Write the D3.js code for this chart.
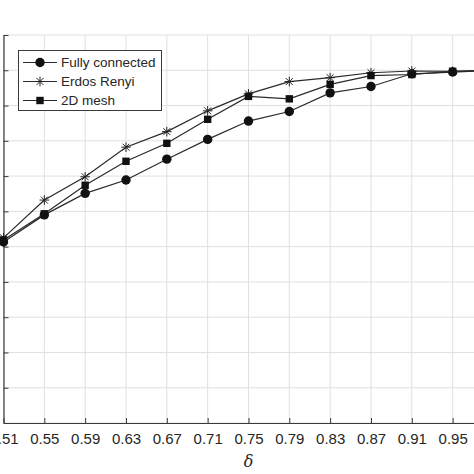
<!DOCTYPE html>
<html>
<head>
<meta charset="utf-8">
<script src="https://cdn.jsdelivr.net/npm/d3@7"></script>
<style>
  body { margin: 0; background: #fff; }
  svg { display: block; font-family: "Liberation Sans", Arial, sans-serif; }
</style>
</head>
<body>
<div id="chart"></div>
<script>
// delta values on the x axis
const deltas = [0.51, 0.55, 0.59, 0.63, 0.67, 0.71, 0.75, 0.79, 0.83, 0.87, 0.91, 0.95, 0.99];
const fullyConnected = [0.513, 0.590, 0.651, 0.689, 0.748, 0.804, 0.856, 0.883, 0.936, 0.954, 0.990, 0.995, 1.0];
const erdosRenyi = [0.525, 0.632, 0.698, 0.782, 0.826, 0.885, 0.933, 0.968, 0.979, 0.993, 0.998, 0.997, 1.0];
const mesh2d = [0.519, 0.593, 0.674, 0.742, 0.793, 0.861, 0.926, 0.919, 0.960, 0.985, 0.988, 0.997, 1.0];
// y tick positions (their labels fall outside the cropped picture)
const yTicks = [0, 0.1, 0.2, 0.3, 0.4, 0.5, 0.6, 0.7, 0.8, 0.9, 1.0, 1.1];

const series = [
  { name: "Fully connected", values: fullyConnected, marker: "circle" },
  { name: "Erdos Renyi", values: erdosRenyi, marker: "star" },
  { name: "2D mesh", values: mesh2d, marker: "square" }
];

var width = 474;
var height = 474;
const margin = { top: 35, left: 3.5, bottom: 51 };
const step = 40.83;

const svg = d3.select("#chart").append("svg")
  .attr("width", width)
  .attr("height", height);

const x = d3.scaleLinear()
  .domain([0.51, 0.99])
  .range([margin.left, margin.left + 12 * step]);

const y = d3.scaleLinear()
  .domain([0, 1.1])
  .range([height - margin.bottom, margin.top]);

// grid
svg.append("g")
  .selectAll("line")
  .data(deltas)
  .join("line")
  .attr("x1", d => x(d)).attr("x2", d => x(d))
  .attr("y1", y(0)).attr("y2", y(1.1))
  .attr("stroke", "#e0e0e0").attr("stroke-width", 1);

svg.append("g")
  .selectAll("line")
  .data(yTicks)
  .join("line")
  .attr("x1", x(0.51)).attr("x2", x(0.99))
  .attr("y1", d => y(d)).attr("y2", d => y(d))
  .attr("stroke", "#e0e0e0").attr("stroke-width", 1);

// axes
const xAxis = svg.append("g")
  .attr("transform", `translate(0,${y(0)})`)
  .call(d3.axisBottom(x).tickValues(deltas).tickFormat(d3.format(".2f"))
    .tickSizeInner(-5).tickSizeOuter(0).tickPadding(10));

const yAxis = svg.append("g")
  .attr("transform", `translate(${x(0.51)},0)`)
  .call(d3.axisLeft(y).tickValues(yTicks).tickFormat("")
    .tickSizeInner(-5).tickSizeOuter(0));

[xAxis, yAxis].forEach(g => {
  g.select(".domain").attr("stroke", "#3a3a3a").attr("stroke-width", 1.2);
  g.selectAll(".tick line").attr("stroke", "#3a3a3a");
  g.selectAll(".tick text")
    .attr("font-size", 15)
    .attr("font-family", "\"Liberation Sans\", Arial, sans-serif")
    .attr("fill", "#262626");
});
yAxis.selectAll(".tick text").remove();

svg.append("text")
  .attr("x", x(0.75))
  .attr("y", 467)
  .attr("text-anchor", "middle")
  .attr("font-size", 16)
  .attr("font-style", "italic")
  .attr("font-family", "\"DejaVu Serif\", serif")
  .attr("fill", "#262626")
  .text("δ");

const line = d3.line()
  .x(d => x(d[0]))
  .y(d => y(d[1]));

function drawMarker(g, type, cx, cy) {
  if (type === "circle") {
    g.append("circle").attr("cx", cx).attr("cy", cy).attr("r", 4.7).attr("fill", "#111");
  } else if (type === "square") {
    g.append("rect").attr("x", cx - 3.7).attr("y", cy - 3.7)
      .attr("width", 7.4).attr("height", 7.4).attr("fill", "#111");
  } else {
    const r = 4.8, q = r * 0.72;
    g.append("path")
      .attr("d", `M${cx - r},${cy}L${cx + r},${cy}M${cx},${cy - r}L${cx},${cy + r}` +
        `M${cx - q},${cy - q}L${cx + q},${cy + q}M${cx - q},${cy + q}L${cx + q},${cy - q}`)
      .attr("stroke", "#222").attr("stroke-width", 1).attr("fill", "none");
  }
}

const plot = svg.append("g");

series.forEach(s => {
  const pts = deltas.map((d, i) => [d, s.values[i]]);
  plot.append("path")
    .datum(pts)
    .attr("d", line)
    .attr("fill", "none")
    .attr("stroke", "#2a2a2a")
    .attr("stroke-width", 1.2);
  const mg = plot.append("g");
  pts.forEach(p => drawMarker(mg, s.marker, x(p[0]), y(p[1])));
});

// legend
const legend = svg.append("g");
legend.append("rect")
  .attr("x", 18.5).attr("y", 50.5)
  .attr("width", 143).attr("height", 60)
  .attr("fill", "#fff")
  .attr("stroke", "#3a3a3a")
  .attr("stroke-width", 1);

series.forEach((s, i) => {
  const ly = 62.5 + i * 19;
  legend.append("line")
    .attr("x1", 23).attr("x2", 57)
    .attr("y1", ly).attr("y2", ly)
    .attr("stroke", "#2a2a2a").attr("stroke-width", 1.2);
  drawMarker(legend, s.marker, 40, ly);
  legend.append("text")
    .attr("x", 61)
    .attr("y", ly)
    .attr("dy", "0.35em")
    .attr("font-size", 13.5)
    .attr("fill", "#262626")
    .text(s.name);
});
</script>
</body>
</html>
